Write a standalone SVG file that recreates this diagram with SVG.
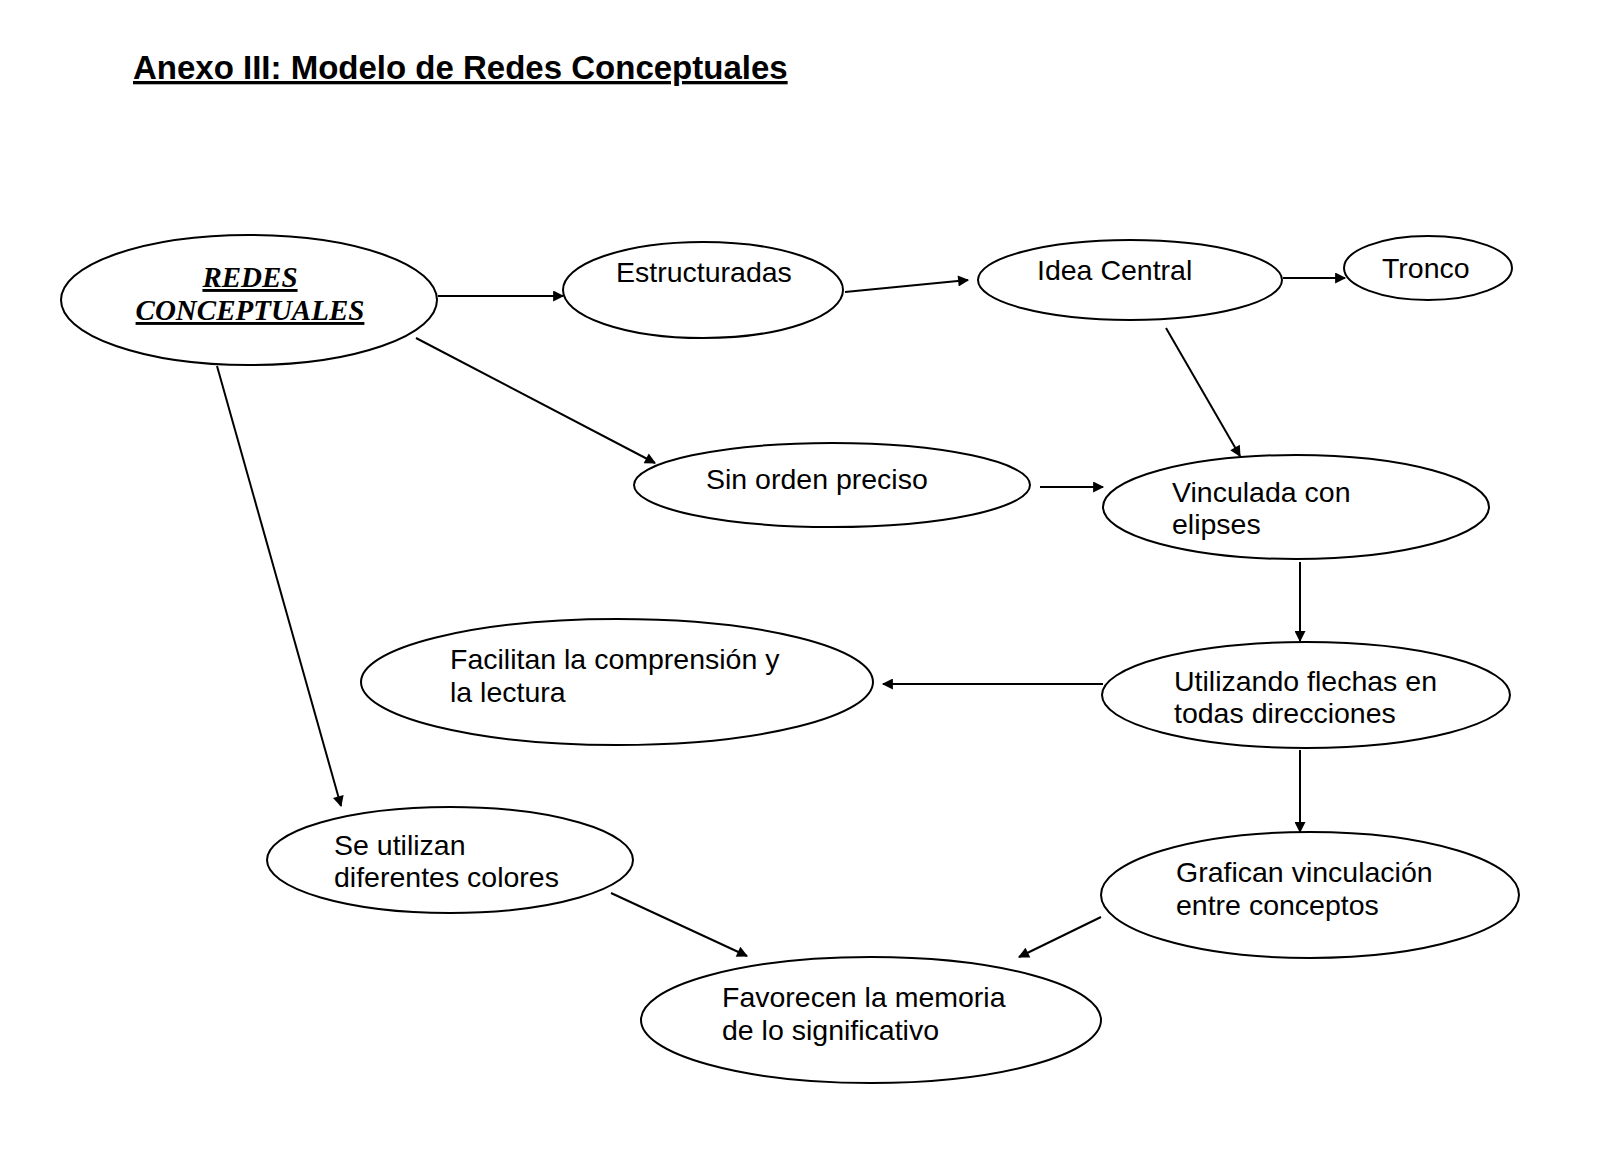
<svg xmlns="http://www.w3.org/2000/svg" width="1600" height="1154" viewBox="0 0 1600 1154">
<style>
.n{fill:#fff;stroke:#000;stroke-width:2}
.t{font-family:"Liberation Sans",Arial,sans-serif;font-size:28.5px;fill:#000}
.c line{stroke:#000;stroke-width:2;marker-end:url(#a)}
</style>
<defs><marker id="a" viewBox="0 0 10 10" refX="9" refY="5" markerWidth="14" markerHeight="11" markerUnits="userSpaceOnUse" orient="auto"><path d="M0,0L10,5L0,10z"/></marker></defs>
<rect width="1600" height="1154" fill="#fff"/>
<text x="133" y="79" font-family="Liberation Sans,Arial,sans-serif" font-size="33" font-weight="bold" text-decoration="underline">Anexo III: Modelo de Redes Conceptuales</text>
<g id="n1"><ellipse class="n" cx="249" cy="300" rx="188" ry="65"/><text x="250" y="287" text-anchor="middle" font-family="Liberation Serif,serif" font-size="29" font-weight="bold" font-style="italic" text-decoration="underline">REDES</text><text x="250" y="320" text-anchor="middle" font-family="Liberation Serif,serif" font-size="29" font-weight="bold" font-style="italic" text-decoration="underline">CONCEPTUALES</text></g>
<g id="n2"><ellipse class="n" cx="703" cy="290" rx="140" ry="48"/><text class="t" x="616" y="282">Estructuradas</text></g>
<g id="n3"><ellipse class="n" cx="1130" cy="280" rx="152" ry="40"/><text class="t" x="1037" y="280">Idea Central</text></g>
<g id="n4"><ellipse class="n" cx="1428" cy="268" rx="84" ry="32"/><text class="t" x="1382" y="278">Tronco</text></g>
<g id="n5"><ellipse class="n" cx="832" cy="485" rx="198" ry="42"/><text class="t" x="706" y="489">Sin orden preciso</text></g>
<g id="n6"><ellipse class="n" cx="1296" cy="507" rx="193" ry="52"/><text class="t" x="1172" y="502">Vinculada con</text><text class="t" x="1172" y="534">elipses</text></g>
<g id="n7"><ellipse class="n" cx="617" cy="682" rx="256" ry="63"/><text class="t" x="450" y="669">Facilitan la comprensión y</text><text class="t" x="450" y="702">la lectura</text></g>
<g id="n8"><ellipse class="n" cx="1306" cy="695" rx="204" ry="53"/><text class="t" x="1174" y="691">Utilizando flechas en</text><text class="t" x="1174" y="723">todas direcciones</text></g>
<g id="n9"><ellipse class="n" cx="450" cy="860" rx="183" ry="53"/><text class="t" x="334" y="855">Se utilizan</text><text class="t" x="334" y="887">diferentes colores</text></g>
<g id="n10"><ellipse class="n" cx="1310" cy="895" rx="209" ry="63"/><text class="t" x="1176" y="882">Grafican vinculación</text><text class="t" x="1176" y="915">entre conceptos</text></g>
<g id="n11"><ellipse class="n" cx="871" cy="1020" rx="230" ry="63"/><text class="t" x="722" y="1007">Favorecen la memoria</text><text class="t" x="722" y="1040">de lo significativo</text></g>
<g class="c">
<line x1="438" y1="296" x2="563" y2="296"/>
<line x1="845" y1="292" x2="968" y2="280"/>
<line x1="1283" y1="278" x2="1345" y2="278"/>
<line x1="416" y1="338" x2="655" y2="463"/>
<line x1="1166" y1="328" x2="1240" y2="456"/>
<line x1="1040" y1="487" x2="1103" y2="487"/>
<line x1="1300" y1="562" x2="1300" y2="641"/>
<line x1="1103" y1="684" x2="883" y2="684"/>
<line x1="1300" y1="750" x2="1300" y2="832"/>
<line x1="217" y1="366" x2="341" y2="806"/>
<line x1="611" y1="893" x2="747" y2="956"/>
<line x1="1101" y1="917" x2="1019" y2="957"/>
</g>
</svg>
